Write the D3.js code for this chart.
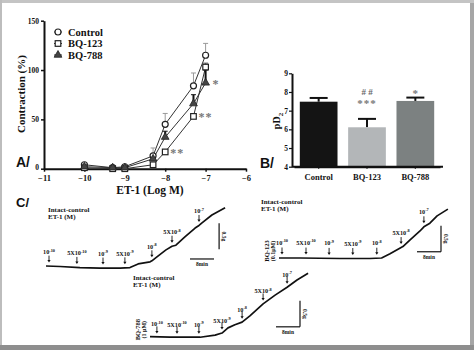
<!DOCTYPE html>
<html><head><meta charset="utf-8">
<script src="https://cdn.jsdelivr.net/npm/d3@7"></script>
<style>
html,body{margin:0;padding:0;background:#fff;}
svg{display:block;}
text{font-family:"Liberation Serif","Times New Roman",serif;font-weight:bold;fill:#111;}
.lab{font-family:"Liberation Sans",Arial,sans-serif;font-weight:bold;}
</style></head>
<body>
<script>
// ---------- Panel A data ----------
const concLog = [-10, -9.3, -9, -8.3, -8, -7.3, -7];
const seriesNames = ["Control", "BQ-123", "BQ-788"];
const controlVals = [4, 1, 2, 13, 45, 84, 115];
const controlErr  = [1, 1, 1, 8, 11, 13, 12];
const bq123Vals   = [1, 0, 0, 4, 17, 53, 103];
const bq123Err    = [1, 1, 1, 1, 2, 2, 4];
const bq788Vals   = [2, 1, 1, 10, 32, 66, 87];
const bq788Err    = [1, 1, 1, 2, 6, 9, 13];
const xTicksA = [-11, -10, -9, -8, -7, -6];
const yTicksA = [0, 50, 100, 150];

// ---------- Panel B data ----------
const groups = ["Control", "BQ-123", "BQ-788"];
const pD2 = [7.48, 6.11, 7.52];
const pD2Err = [0.2, 0.45, 0.18];
const yTicksB = [4, 5, 6, 7, 8, 9];

// ---------- Panel C data (time in min, tension in g) ----------
const traceControl = [[0,0],[4.7,-0.01],[11.3,-0.03],[18,-0.04],[24.7,-0.04],[28,-0.03],[30.7,0.04],[34.7,0.08],[35.3,0.10],[37.3,0.19],[40,0.31],[42,0.38],[43.3,0.40],[46.3,0.56],[49.7,0.73],[51,0.78],[52,0.83],[55.3,0.98],[59.7,1.12]];
const traceBQ123 = [[0,0],[7,0],[20.3,-0.01],[30.3,-0.01],[34.2,0],[37,0.08],[41.3,0.22],[43.7,0.35],[47,0.52],[48.3,0.60],[50.3,0.67],[52.7,0.81],[56.3,0.94]];
const traceBQ788 = [[0,0],[6.7,-0.01],[16.7,-0.01],[21.7,0.03],[24,0.07],[26,0.17],[28.3,0.23],[30.7,0.28],[33.3,0.40],[37.7,0.63],[41.7,0.80],[45.7,0.95],[49,1.09],[52.7,1.22]];
const doseBase = ["10", "5X10", "10", "5X10", "10", "5X10", "10"];
const doseExp  = ["-10", "-10", "-9", "-9", "-8", "-8", "-7"];
const doseTimesControl = [1, 10.3, 19, 26.3, 35.3, 42, 51];
const doseTimesBQ123   = [1, 9, 16.7, 24.6, 32.6, 40.7, 48.3];
const doseTimesBQ788   = [2.3, 9, 16.3, 24, 30.7, 37.7, 45.7];

const W = 474, H = 350;
const svg = d3.select("body").append("svg").attr("width", W).attr("height", H);
svg.append("rect").attr("width", W).attr("height", H).attr("fill", "#fff");

// frame
svg.append("rect").attr("x",0).attr("y",0).attr("width",W).attr("height",3).attr("fill","#c4c4c4");
svg.append("rect").attr("x",0).attr("y",0).attr("width",2).attr("height",H).attr("fill","#bdbdbd");
svg.append("rect").attr("x",470).attr("y",3).attr("width",4).attr("height",H).attr("fill","#a6a6a6");
svg.append("rect").attr("x",0).attr("y",345).attr("width",W).attr("height",5).attr("fill","#8e8e8e");

// ================= Panel A =================
const xA = d3.scaleLinear().domain([-11, -6]).range([44, 246]);
const yA = d3.scaleLinear().domain([0, 150]).range([168.7, 20.7]);

const gA = svg.append("g");
const axYA = gA.append("g").attr("transform", `translate(${xA(-11)},0)`)
  .call(d3.axisLeft(yA).tickValues(yTicksA).tickSize(3).tickPadding(2).tickSizeOuter(0));
const axXA = gA.append("g").attr("transform", `translate(0,${yA(0)})`)
  .call(d3.axisBottom(xA).tickValues(xTicksA).tickSize(3).tickPadding(3).tickSizeOuter(0).tickFormat(d3.format("d")));
[axYA, axXA].forEach(a => {
  a.select(".domain").attr("stroke", "#111").attr("stroke-width", 2);
  a.selectAll(".tick line").attr("stroke", "#111").attr("stroke-width", 1.5);
  a.selectAll(".tick text").attr("font-family", "Liberation Serif").attr("font-weight", "bold").attr("font-size", 8.5).attr("fill", "#111");
});
axYA.selectAll(".tick text").attr("font-size", 7.5);
axYA.selectAll(".tick").filter(d => d === 0).select("text").attr("dy", "0.1em");

gA.append("text").attr("x", 150).attr("y", 194).attr("text-anchor", "middle").attr("font-size", 11.5).text("ET-1 (Log M)");
gA.append("text").attr("transform", "translate(25,94) rotate(-90)").attr("text-anchor", "middle").attr("font-size", 11).text("Contraction (%)");
gA.append("text").attr("class", "lab").attr("x", 16).attr("y", 167).attr("font-size", 14).text("A/");

const seriesA = [
  {vals: controlVals, err: controlErr, sym: "circle", errColor: "#9a9a9a", errW: 1},
  {vals: bq123Vals, err: bq123Err, sym: "square", errColor: "#555", errW: 1},
  {vals: bq788Vals, err: bq788Err, sym: "triangle", errColor: "#111", errW: 2}
];
const line = d3.line().x((d, i) => xA(concLog[i])).y(d => yA(d));
seriesA.forEach(s => {
  gA.append("path").attr("d", line(s.vals)).attr("fill", "none").attr("stroke", "#333").attr("stroke-width", 1);
});
seriesA.forEach(s => {
  s.vals.forEach((v, i) => {
    const x = xA(concLog[i]);
    gA.append("line").attr("x1", x).attr("x2", x).attr("y1", yA(v)).attr("y2", yA(v + s.err[i]))
      .attr("stroke", s.errColor).attr("stroke-width", s.errW);
    gA.append("line").attr("x1", x - 2.5).attr("x2", x + 2.5).attr("y1", yA(v + s.err[i])).attr("y2", yA(v + s.err[i]))
      .attr("stroke", s.errColor).attr("stroke-width", 1);
  });
});
function drawSym(g, sym, x, y) {
  if (sym === "circle") g.append("circle").attr("cx", x).attr("cy", y).attr("r", 3).attr("fill", "#fff").attr("stroke", "#222").attr("stroke-width", 1.2);
  else if (sym === "square") g.append("rect").attr("x", x - 2.8).attr("y", y - 2.8).attr("width", 5.6).attr("height", 5.6).attr("fill", "#fff").attr("stroke", "#222").attr("stroke-width", 1.2);
  else g.append("path").attr("d", d3.symbol(d3.symbolTriangle, 26)()).attr("transform", `translate(${x},${y})`).attr("fill", "#444").attr("stroke", "#222").attr("stroke-width", 0.8);
}
seriesA.forEach(s => s.vals.forEach((v, i) => drawSym(gA, s.sym, xA(concLog[i]), yA(v))));

// significance stars
gA.append("text").attr("x", xA(-7) + 7).attr("y", yA(bq788Vals[6]) + 5).attr("font-size", 12).style("fill", "#777").text("*");
gA.append("text").attr("x", xA(-7.3) + 5).attr("y", yA(bq123Vals[5]) + 5).attr("font-size", 12).style("fill", "#777").attr("letter-spacing", 1).text("**");
gA.append("text").attr("x", xA(-8) + 5).attr("y", yA(bq123Vals[4]) + 5).attr("font-size", 12).style("fill", "#777").attr("letter-spacing", 1).text("**");

// legend
const legSyms = ["circle", "square", "triangle"];
seriesNames.forEach((n, i) => {
  const y = 32 + i * 11.5;
  gA.append("line").attr("x1", 54).attr("x2", 62).attr("y1", y).attr("y2", y).attr("stroke", "#333").attr("stroke-width", 1);
  drawSym(gA, legSyms[i], 58, y);
  gA.append("text").attr("x", 68).attr("y", y + 3.5).attr("font-size", 10.5).text(n);
});

// ================= Panel B =================
const xB = d3.scaleBand().domain(groups).range([294, 440]).paddingInner(0.22).paddingOuter(0.12);
const yB = d3.scaleLinear().domain([4, 9]).range([166.7, 73.3]);
const gB = svg.append("g");
const barColors = ["#141414", "#b3b6b8", "#7c8181"];
groups.forEach((gname, i) => {
  const x = xB(gname), w = xB.bandwidth(), cx = x + w / 2;
  gB.append("line").attr("x1", cx).attr("x2", cx).attr("y1", yB(pD2[i])).attr("y2", yB(pD2[i] + pD2Err[i])).attr("stroke", "#111").attr("stroke-width", 2);
  gB.append("line").attr("x1", cx - 9).attr("x2", cx + 9).attr("y1", yB(pD2[i] + pD2Err[i])).attr("y2", yB(pD2[i] + pD2Err[i])).attr("stroke", "#111").attr("stroke-width", 2);
  gB.append("rect").attr("x", x).attr("y", yB(pD2[i])).attr("width", w).attr("height", yB(4) - yB(pD2[i])).attr("fill", barColors[i]);
});
const axYB = gB.append("g").attr("transform", "translate(292,0)")
  .call(d3.axisLeft(yB).tickValues(yTicksB).tickSize(3).tickPadding(1).tickSizeOuter(0).tickFormat(d3.format("d")));
const axXB = gB.append("g").attr("transform", `translate(0,${yB(4)})`)
  .call(d3.axisBottom(xB).tickSize(2).tickPadding(5).tickSizeOuter(0));
gB.append("line").attr("x1", 292).attr("x2", 443).attr("y1", yB(4)).attr("y2", yB(4)).attr("stroke", "#111").attr("stroke-width", 2);
[axYB, axXB].forEach(a => {
  a.select(".domain").attr("stroke", "#111").attr("stroke-width", 2);
  a.selectAll(".tick line").attr("stroke", "#111").attr("stroke-width", 1.2);
  a.selectAll(".tick text").attr("font-family", "Liberation Serif").attr("font-weight", "bold").attr("font-size", 7.5).attr("fill", "#111");
});
axXB.selectAll(".tick text").attr("font-size", 8.5);
const pdl = gB.append("text").attr("transform", "translate(280,121) rotate(-90)").attr("text-anchor", "middle").attr("font-size", 10);
pdl.append("tspan").text("pD");
pdl.append("tspan").attr("font-size", 7).attr("dy", 3).text("2");
gB.append("text").attr("class", "lab").attr("x", 260).attr("y", 168).attr("font-size", 14).text("B/");
const cx123 = xB("BQ-123") + xB.bandwidth() / 2, cx788 = xB("BQ-788") + xB.bandwidth() / 2;
gB.append("text").attr("x", cx123).attr("y", 95).attr("text-anchor", "middle").attr("font-size", 9).style("fill", "#666").text("# #");
gB.append("text").attr("x", cx123).attr("y", 107).attr("text-anchor", "middle").attr("font-size", 11).attr("letter-spacing", 1).style("fill", "#777").text("***");
gB.append("text").attr("x", cx788).attr("y", 97).attr("text-anchor", "middle").attr("font-size", 11).style("fill", "#777").text("*");

// ================= Panel C =================
svg.append("text").attr("class", "lab").attr("x", 16).attr("y", 207).attr("font-size", 13).text("C/");

const traces = [
  {data: traceControl, doses: doseTimesControl, x0: 46, y0: 266, off: 14,
   title: [48, 212], side: null,
   hbar: [48, 56, 0.135], vbar: [57.7, 0.32, 0.82]},
  {data: traceBQ123, doses: doseTimesBQ123, x0: 279, y0: 258, off: 15,
   title: [261, 204], side: ["BQ-123", "(0.1μM)"],
   hbar: [46, 54, 0.12], vbar: [54, 0.12, 0.62]},
  {data: traceBQ788, doses: doseTimesBQ788, x0: 150, y0: 336.7, off: 12.5,
   title: [133, 279.5], side: ["BQ-788", "(1 μM)"],
   hbar: [42, 50, 0.19], vbar: [50, 0.19, 0.69]}
];
function gAt(data, t) {
  for (let i = 1; i < data.length; i++) {
    if (t <= data[i][0]) {
      const a = data[i - 1], b = data[i], f = (t - a[0]) / (b[0] - a[0]);
      return a[1] + f * (b[1] - a[1]);
    }
  }
  return data[data.length - 1][1];
}
traces.forEach(tr => {
  const tx = d3.scaleLinear().domain([0, 60]).range([tr.x0, tr.x0 + 180]);
  const ty = d3.scaleLinear().domain([0, 1]).range([tr.y0, tr.y0 - 52]);
  const g = svg.append("g");
  g.append("path").attr("d", d3.line().x(d => tx(d[0])).y(d => ty(d[1])).curve(d3.curveLinear)(tr.data))
    .attr("fill", "none").attr("stroke", "#111").attr("stroke-width", 1.7).attr("stroke-linejoin", "round");
  tr.doses.forEach((t, i) => {
    const x = tx(t), yt = ty(gAt(tr.data, t));
    const tip = yt - 3.5;
    g.append("line").attr("x1", x).attr("x2", x).attr("y1", tip - 7).attr("y2", tip - 1.5).attr("stroke", "#111").attr("stroke-width", 0.9);
    g.append("path").attr("d", `M${x - 1.6},${tip - 2.5}L${x + 1.6},${tip - 2.5}L${x},${tip}Z`).attr("fill", "#111");
    const lt = g.append("text").attr("x", x).attr("y", yt - tr.off + 2).attr("text-anchor", "middle").attr("font-size", 6.2);
    lt.append("tspan").text(doseBase[i]);
    lt.append("tspan").attr("font-size", 4.3).attr("dy", -2.6).text(doseExp[i]);
  });
  g.append("text").attr("x", tr.title[0]).attr("y", tr.title[1]).attr("font-size", 7).text("Intact-control");
  g.append("text").attr("x", tr.title[0]).attr("y", tr.title[1] + 7).attr("font-size", 7).text("ET-1 (M)");
  if (tr.side) {
    const sx = tx(0) - 10, sy = tr.y0 - 7;
    g.append("text").attr("transform", `translate(${sx},${sy}) rotate(-90)`).attr("text-anchor", "middle").attr("font-size", 6.5).text(tr.side[0]);
    g.append("text").attr("transform", `translate(${sx + 6},${sy}) rotate(-90)`).attr("text-anchor", "middle").attr("font-size", 6).text(tr.side[1]);
  }
  // scale bars
  const hy = ty(tr.hbar[2]);
  g.append("line").attr("x1", tx(tr.hbar[0])).attr("x2", tx(tr.hbar[1])).attr("y1", hy).attr("y2", hy).attr("stroke", "#111").attr("stroke-width", 1.2);
  g.append("text").attr("x", (tx(tr.hbar[0]) + tx(tr.hbar[1])) / 2).attr("y", hy + 7).attr("text-anchor", "middle").attr("font-size", 5.5).text("8min");
  const vx = tx(tr.vbar[0]);
  g.append("line").attr("x1", vx).attr("x2", vx).attr("y1", ty(tr.vbar[1])).attr("y2", ty(tr.vbar[2])).attr("stroke", "#111").attr("stroke-width", 1.2);
  g.append("text").attr("transform", `translate(${vx + 3},${(ty(tr.vbar[1]) + ty(tr.vbar[2])) / 2}) rotate(90)`).attr("text-anchor", "middle").attr("font-size", 5.5).text("0.5g");
});
</script>
</body></html>
